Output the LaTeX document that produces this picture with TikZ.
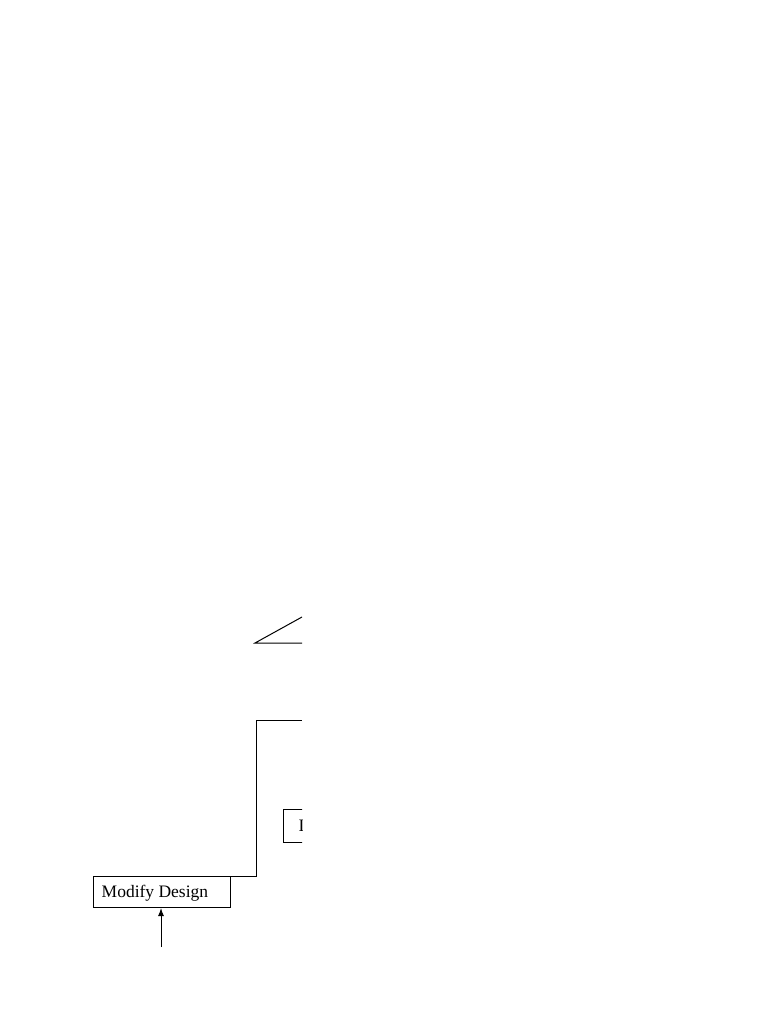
\documentclass[tikz,border=0pt]{standalone}
\usepackage{fontspec}
\setmainfont{Liberation Serif}
\usetikzlibrary{arrows.meta}
\begin{document}
\begin{tikzpicture}[x=1pt,y=-1pt,
  line/.style={draw=black,line width=1pt},
  boxnode/.style={draw=black,line width=1pt,inner sep=0pt},
  txt/.style={inner sep=0pt,font=\fontsize{17.5}{20}\selectfont},
  arr/.style={line,-{Latex[length=8pt,width=6pt]}}]
\useasboundingbox (0,0) rectangle (768,1024);
\node[boxnode,minimum width=137pt,minimum height=31pt,anchor=north west] (modify) at (93,876) {};
\node[txt,anchor=west] (modifytext) at ([xshift=8.5pt,yshift=-1pt]modify.west) {Modify Design};
\coordinate (arrstart) at (161,947);
\draw[arr] (arrstart) -- (modify.south -| arrstart);
\coordinate (c1) at (256,720);
\coordinate (c2) at (302,720);
\draw[line] (modify.north east) -| (c1) -- (c2);
\coordinate (apex) at (255,643);
\coordinate (t1) at (302,617);
\coordinate (t2) at (302,643);
\draw[line] (t1) -- (apex) -- (t2);
\begin{scope}
\clip (0,0) rectangle (302,1024);
\node[boxnode,minimum width=60pt,minimum height=33pt,anchor=north west] (eval) at (283,809) {};
\node[txt,anchor=west] (evaltext) at ([xshift=15.5pt]eval.west) {I};
\end{scope}
\end{tikzpicture}
\end{document}
